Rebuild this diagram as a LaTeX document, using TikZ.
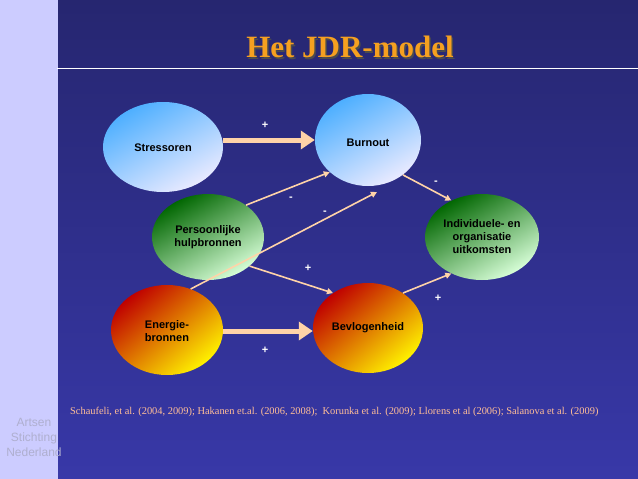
\documentclass[tikz,border=0pt]{standalone}
\usepackage{fontspec}
\setmainfont{Liberation Serif}
\newfontfamily\arial{Liberation Sans}
\usetikzlibrary{arrows.meta,shapes.geometric}
\definecolor{navtop}{HTML}{262670}
\definecolor{navbot}{HTML}{3838A8}
\definecolor{strip}{HTML}{CCCCFF}
\definecolor{peach}{HTML}{FFD3A8}
\definecolor{ttl}{HTML}{F5A020}
\tikzset{
  ell/.style={ellipse, minimum width=#1, inner sep=0pt, font=\arial\bfseries\fontsize{11}{13}\selectfont, align=center, text=black},
  bluebal/.style={shading=axis, top color=blue!45!cyan!70!white, bottom color=blue!8!white, shading angle=30},
  greenbal/.style={shading=axis, top color=green!40!black, bottom color=green!15!white, shading angle=30},
  redbal/.style={shading=axis, top color=red!75!black, bottom color=yellow!90!orange, shading angle=40},
  thin arr/.style={draw=peach, line width=1.6pt, -{Triangle[length=6pt,width=6pt]}},
  thick arr/.style={draw=peach, line width=5pt, -{Triangle[length=14pt,width=18pt]}},
  sign/.style={text=white, font=\arial\bfseries\fontsize{11}{12}\selectfont},
  lbl/.style={font=\arial\bfseries\fontsize{11}{13}\selectfont},
}
\begin{document}
\begin{tikzpicture}[x=1pt,y=-1pt]
\useasboundingbox (0,0) rectangle (638,479);
\shade[top color=navtop, bottom color=navbot] (0,0) rectangle (638,479);
\fill[strip] (0,0) rectangle (58,479);
\draw[white, line width=0.8pt] (57,68) -- (638,68);
\node[text=black!70, font=\bfseries\fontsize{31}{34}\selectfont] at (351.5,48.5) {Het JDR-model};
\node (title) [text=ttl, font=\bfseries\fontsize{31}{34}\selectfont] at (350,47) {Het JDR-model};
% ellipses
\node (str) [ell=120pt, minimum height=90pt, bluebal] at (163,147) {};
\node at (163,148) [lbl] {Stressoren};
\node (bur) [ell=106pt, minimum height=92pt, bluebal] at (368,140) {};
\node at (368,143) [lbl] {Burnout};
\node (per) [ell=112pt, minimum height=86pt, greenbal] at (208,237) {Persoonlijke\\hulpbronnen};
\node (ind) [ell=114pt, minimum height=86pt, greenbal] at (482,237) {Individuele- en\\organisatie\\uitkomsten};
\node (ene) [ell=112pt, minimum height=90pt, redbal] at (167,330) {};
\node at (167,331) [lbl, align=left] {Energie-\\bronnen};
\node (bev) [ell=110pt, minimum height=90pt, redbal] at (368,328) {Bevlogenheid};
% arrows
\coordinate (b1) at (377,192);
\draw[thick arr] (str.east |- 0,140) -- (bur.west |- 0,140);
\draw[thick arr] (ene.east |- 0,331) -- (bev.west |- 0,331);
\draw[thin arr] (per.40) -- (bur.220);
\draw[thin arr] (ene.60) -- (b1);
\draw[thin arr] (per.-35) -- (bev.135);
\draw[thin arr] (bur.-45) -- (ind.130);
\draw[thin arr] (bev.45) -- (ind.-130);
\node[sign] at (265,125) {+};
\node[sign] at (265,350) {+};
\node[sign] at (291,199) {-};
\node[sign] at (325,213) {-};
\node[sign] at (308,268) {+};
\node[sign] at (436,183) {-};
\node[sign] at (438,298) {+};
\node (cite) [text=peach!90!red, font=\fontsize{10.4}{12}\selectfont, anchor=west, inner sep=0pt] at (70,412) {Schaufeli, et al. (2004, 2009); Hakanen et.al. (2006, 2008);\ \ Korunka et al. (2009); Llorens et al (2006); Salanova et al. (2009)};
\node (logo) [text=blue!25!gray!50!white, font=\arial\fontsize{12}{15}\selectfont, align=center, inner sep=0pt] at (34,437) {Artsen\\Stichting\\Nederland};
\end{tikzpicture}
\end{document}
